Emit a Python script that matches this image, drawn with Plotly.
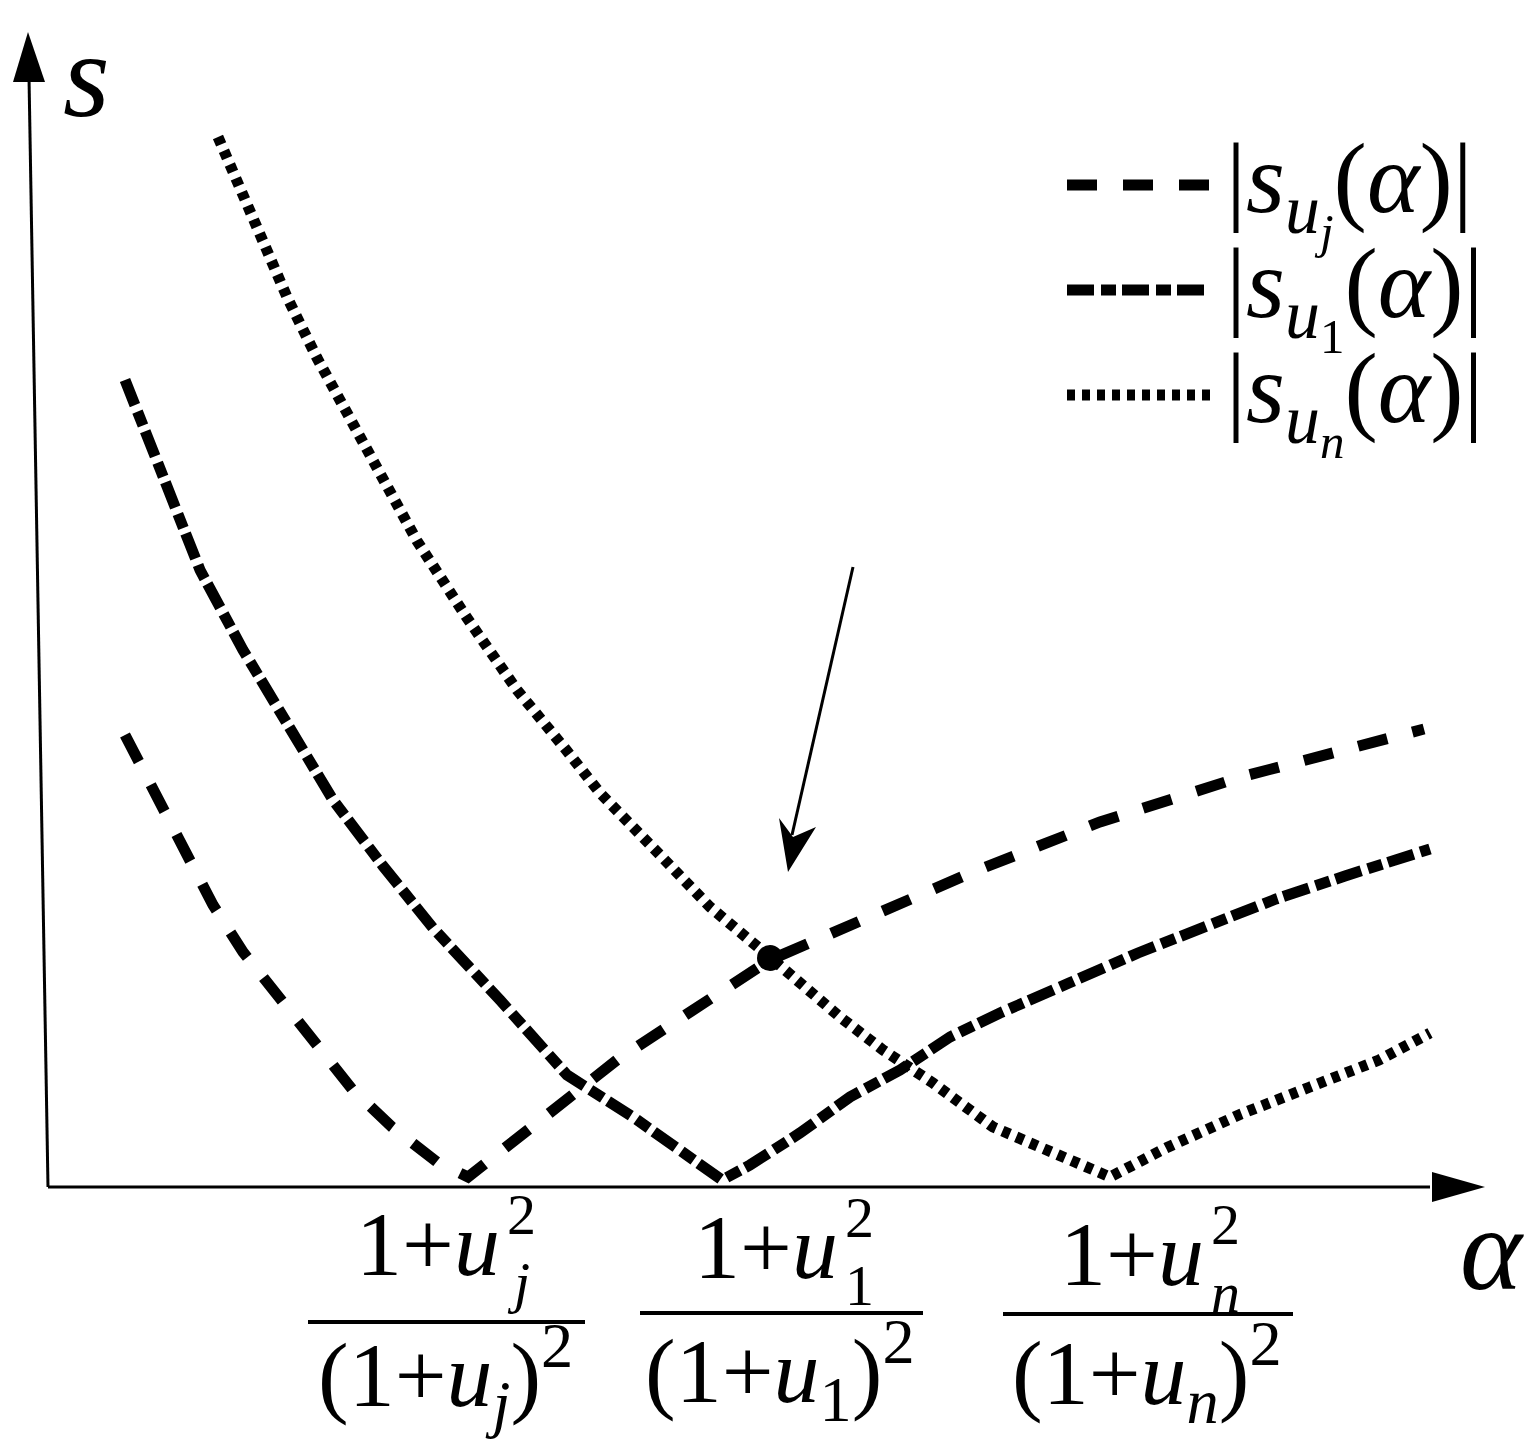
import plotly.graph_objects as go

# |s_uj(alpha)| - dashed curve
alpha_j = [125, 158, 185, 213, 243, 280, 317, 352, 392, 437, 468, 540, 617, 713, 770, 867, 973, 1100, 1241, 1424]
s_j = [452, 387, 334, 282, 235, 189, 142, 98, 60, 25, 10, 67, 127, 190, 227, 269, 315, 365, 410, 458]

# |s_u1(alpha)| - dash-dot curve
alpha_1 = [125, 167, 200, 243, 287, 333, 383, 433, 500, 567, 633, 703, 722, 750, 800, 850, 900, 950, 1000,
           1069, 1138, 1207, 1276, 1345, 1430]
s_1 = [807, 697, 617, 537, 462, 387, 321, 259, 187, 112, 70, 20, 7, 22, 54, 90, 117, 150, 174,
       204, 234, 261, 288, 311, 338]

# |s_un(alpha)| - dotted curve
alpha_n = [218, 253, 287, 317, 367, 417, 467, 517, 567, 600, 660, 710, 771, 840, 883, 933, 993, 1052, 1110,
           1166, 1241, 1310, 1379, 1430]
s_n = [1050, 970, 890, 829, 738, 646, 569, 497, 436, 394, 332, 280, 229, 170, 137, 104, 60, 35, 10,
       39, 73, 100, 127, 154]

# intersection point marked on the plot
cross_alpha = [770]
cross_s = [229]

legend_names = ['|<i>s</i><sub><i>u</i><sub><i>j</i></sub></sub>(<i>α</i>)|',
                '|<i>s</i><sub><i>u</i><sub>1</sub></sub>(<i>α</i>)|',
                '|<i>s</i><sub><i>u</i><sub><i>n</i></sub></sub>(<i>α</i>)|']
tick_subs = ['<i>j</i>', '1', '<i>n</i>']

FONT = 'Liberation Serif'
dash_j = '30px,26px'
dash_1 = '27px,7px,15px,6px'
dash_n = '8px,7px'

fig = go.Figure()

for xs, ys, d in [(alpha_j, s_j, dash_j), (alpha_1, s_1, dash_1), (alpha_n, s_n, dash_n)]:
    fig.add_trace(go.Scatter(x=xs, y=ys, mode='lines', line=dict(color='black', width=11, dash=d),
                             showlegend=False, hoverinfo='skip'))

fig.add_trace(go.Scatter(x=cross_alpha, y=cross_s, mode='markers',
                         marker=dict(color='black', size=26), showlegend=False, hoverinfo='skip'))

# hand-made legend
leg_y = [1002, 897, 792]
for yy, d, name in zip(leg_y, [dash_j, dash_1, dash_n], legend_names):
    fig.add_trace(go.Scatter(x=[1067, 1210], y=[yy, yy], mode='lines',
                             line=dict(color='black', width=11, dash=d), showlegend=False, hoverinfo='skip'))
    fig.add_annotation(x=1224, y=yy - 6, text=name, showarrow=False, xanchor='left', yanchor='middle',
                       font=dict(family=FONT, size=100, color='black'))

# axes with arrow heads
fig.add_shape(type='line', x0=48, y0=0, x1=1430, y1=0, line=dict(color='black', width=3))
fig.add_shape(type='path', path='M 1485 0 L 1432 15 L 1432 -15 Z', fillcolor='black', line=dict(width=0))
fig.add_shape(type='line', x0=48, y0=0, x1=29, y1=1110, line=dict(color='black', width=3))
fig.add_shape(type='path', path='M 28 1155 L 13 1105 L 45 1105 Z', fillcolor='black', line=dict(width=0))

fig.add_annotation(x=86, y=1112, text='<i>s</i>', showarrow=False,
                   font=dict(family=FONT, size=120, color='black'))
fig.add_annotation(x=1492, y=-62, text='<i>α</i>', showarrow=False,
                   font=dict(family=FONT, size=118, color='black'))

# arrow pointing at the intersection
fig.add_shape(type='line', x0=853, y0=620, x1=792, y1=352, line=dict(color='black', width=3))
fig.add_shape(type='path', path='M 788 315 L 779 369 L 793 350 L 816 360 Z', fillcolor='black',
              line=dict(width=0))

# fraction labels under the alpha axis
num_right = [502, 840, 1206]
num_y = [-57, -60, -67]
bar_x = [(308, 585), (640, 923), (1003, 1293)]
bar_y = [-135, -126, -127]
den_x = [445, 780, 1147]
den_y = [-187, -183, -185]
for k in range(3):
    fig.add_annotation(x=num_right[k], y=num_y[k], text='1+<i>u</i>', showarrow=False,
                       xanchor='right', yanchor='middle', font=dict(family=FONT, size=92, color='black'))
    fig.add_annotation(x=num_right[k] + 3, y=num_y[k] + 30, text='2', showarrow=False,
                       xanchor='left', yanchor='middle', font=dict(family=FONT, size=58, color='black'))
    fig.add_annotation(x=num_right[k] + 3, y=num_y[k] - 38, text=tick_subs[k], showarrow=False,
                       xanchor='left', yanchor='middle', font=dict(family=FONT, size=58, color='black'))
    fig.add_shape(type='line', x0=bar_x[k][0], y0=bar_y[k], x1=bar_x[k][1], y1=bar_y[k],
                  line=dict(color='black', width=4))
    fig.add_annotation(x=den_x[k], y=den_y[k],
                       text='(1+<i>u</i><sub>' + tick_subs[k] + '</sub>)<sup>2</sup>', showarrow=False,
                       xanchor='center', yanchor='middle', font=dict(family=FONT, size=92, color='black'))

# page body adds an 8px offset, so the ranges are shifted by 8 to land on the reference pixels
fig.update_layout(
    width=1540, height=1440,
    margin=dict(l=0, r=0, t=0, b=0),
    paper_bgcolor='white', plot_bgcolor='white',
    xaxis=dict(range=[8, 1548], visible=False, fixedrange=True),
    yaxis=dict(range=[-261, 1179], visible=False, fixedrange=True),
)

fig.write_html("out.html")
